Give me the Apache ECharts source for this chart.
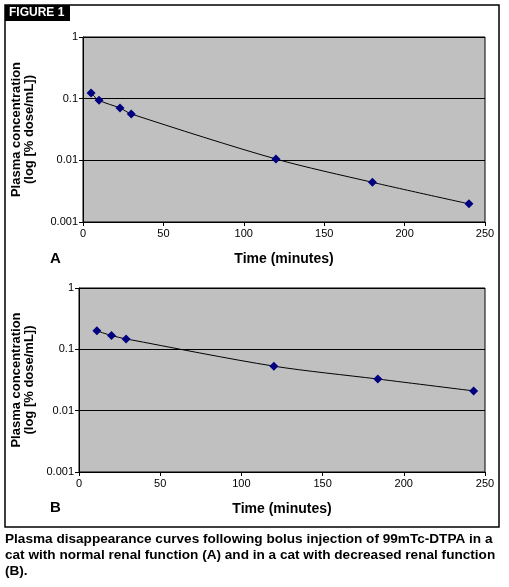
<!DOCTYPE html>
<html><head><meta charset="utf-8">
<script src="https://cdn.jsdelivr.net/npm/echarts@6/dist/echarts.min.js"></script>
<style>html,body{margin:0;padding:0;background:#fff}#c{width:509px;height:587px}</style>
</head><body><div id="c"></div>
<script>
const timeA = [5, 10, 23, 30, 120, 180, 240];
const concA = [0.123, 0.094, 0.0705, 0.0565, 0.0105, 0.0044, 0.00197];
const timeB = [11, 20, 29, 120, 184, 243];
const concB = [0.2, 0.168, 0.148, 0.0532, 0.0328, 0.021];
const yTicks = [0.001, 0.01, 0.1, 1];
const xTitle = 'Time (minutes)';
const yTitle = 'Plasma concentration\n(log [% dose/mL])';
const caption = 'Plasma disappearance curves following bolus injection of 99mTc-DTPA in a\ncat with normal renal function (A) and in a cat with decreased renal function\n(B).';

const narrow = '"Liberation Sans Narrow", "Liberation Sans", Arial, sans-serif';
const sans = '"Liberation Sans", Arial, sans-serif';

function pairs(xs, ys){ return xs.map((x,i)=>[x, ys[i]]); }

function xAxis(gi){
  return {
    type:'value', gridIndex:gi, min:0, max:250, interval:50,
    name:xTitle, nameLocation:'middle', nameGap:30,
    nameTextStyle:{fontFamily:narrow, fontWeight:'bold', fontSize:14, color:'#000'},
    axisLine:{show:true, lineStyle:{color:'#000', width:1}},
    axisTick:{show:true, length:4, lineStyle:{color:'#000'}},
    axisLabel:{fontFamily:sans, fontSize:11, color:'#000', margin:6},
    splitLine:{show:false}
  };
}
function yAxis(gi, gap){
  return {
    type:'log', logBase:10, gridIndex:gi, min:0.001, max:1,
    name:yTitle, nameLocation:'middle', nameGap:gap, nameRotate:90,
    nameTextStyle:{fontFamily:narrow, fontWeight:'bold', fontSize:13, color:'#000', lineHeight:13, align:'center'},
    axisLine:{show:true, lineStyle:{color:'#000', width:1}},
    axisTick:{show:true, length:4, lineStyle:{color:'#000'}},
    axisLabel:{fontFamily:sans, fontSize:11, color:'#000', margin:5,
      formatter:v=>{ const t = yTicks.find(k=>Math.abs(k-v)/k<1e-6); return t===undefined?'':String(t);} },
    splitLine:{show:true, lineStyle:{color:'#000', width:1}}
  };
}
function series(gi, data){
  return {
    type:'line', xAxisIndex:gi, yAxisIndex:gi, data:data, smooth:0.3,
    symbol:'diamond', symbolSize:9,
    lineStyle:{color:'#000', width:1},
    itemStyle:{color:'#000080'},
    z:3, animation:false
  };
}

const chart = echarts.init(document.getElementById('c'), null, {renderer:'canvas'});
chart.setOption({
  animation:false,
  grid:[
    {left:83, top:37, width:402, height:185, show:true, backgroundColor:'#c0c0c0', borderColor:'#000', borderWidth:1, containLabel:false, outerBoundsMode:'none'},
    {left:79, top:288, width:406, height:184, show:true, backgroundColor:'#c0c0c0', borderColor:'#000', borderWidth:1, containLabel:false, outerBoundsMode:'none'}
  ],
  xAxis:[xAxis(0), xAxis(1)],
  yAxis:[yAxis(0, 47), yAxis(1, 43)],
  series:[series(0, pairs(timeA, concA)), series(1, pairs(timeB, concB))],
  graphic:[
    {type:'rect', shape:{x:5, y:5, width:494, height:522}, style:{fill:'none', stroke:'#000', lineWidth:1.5}, z:0},
    {type:'rect', shape:{x:5, y:5, width:65, height:16}, style:{fill:'#000'}, z:1},
    {type:'text', left:9, top:7, style:{text:'FIGURE 1', fill:'#fff', font:'bold 12px '+narrow}, z:2},
    {type:'text', left:50, top:251, style:{text:'A', fill:'#000', font:'bold 15px '+sans}},
    {type:'text', left:50, top:500, style:{text:'B', fill:'#000', font:'bold 15px '+sans}},
    {type:'text', left:5, top:531, style:{text:caption, fill:'#000', font:'bold 13.6px '+sans, lineHeight:16}}
  ]
});
</script></body></html>
